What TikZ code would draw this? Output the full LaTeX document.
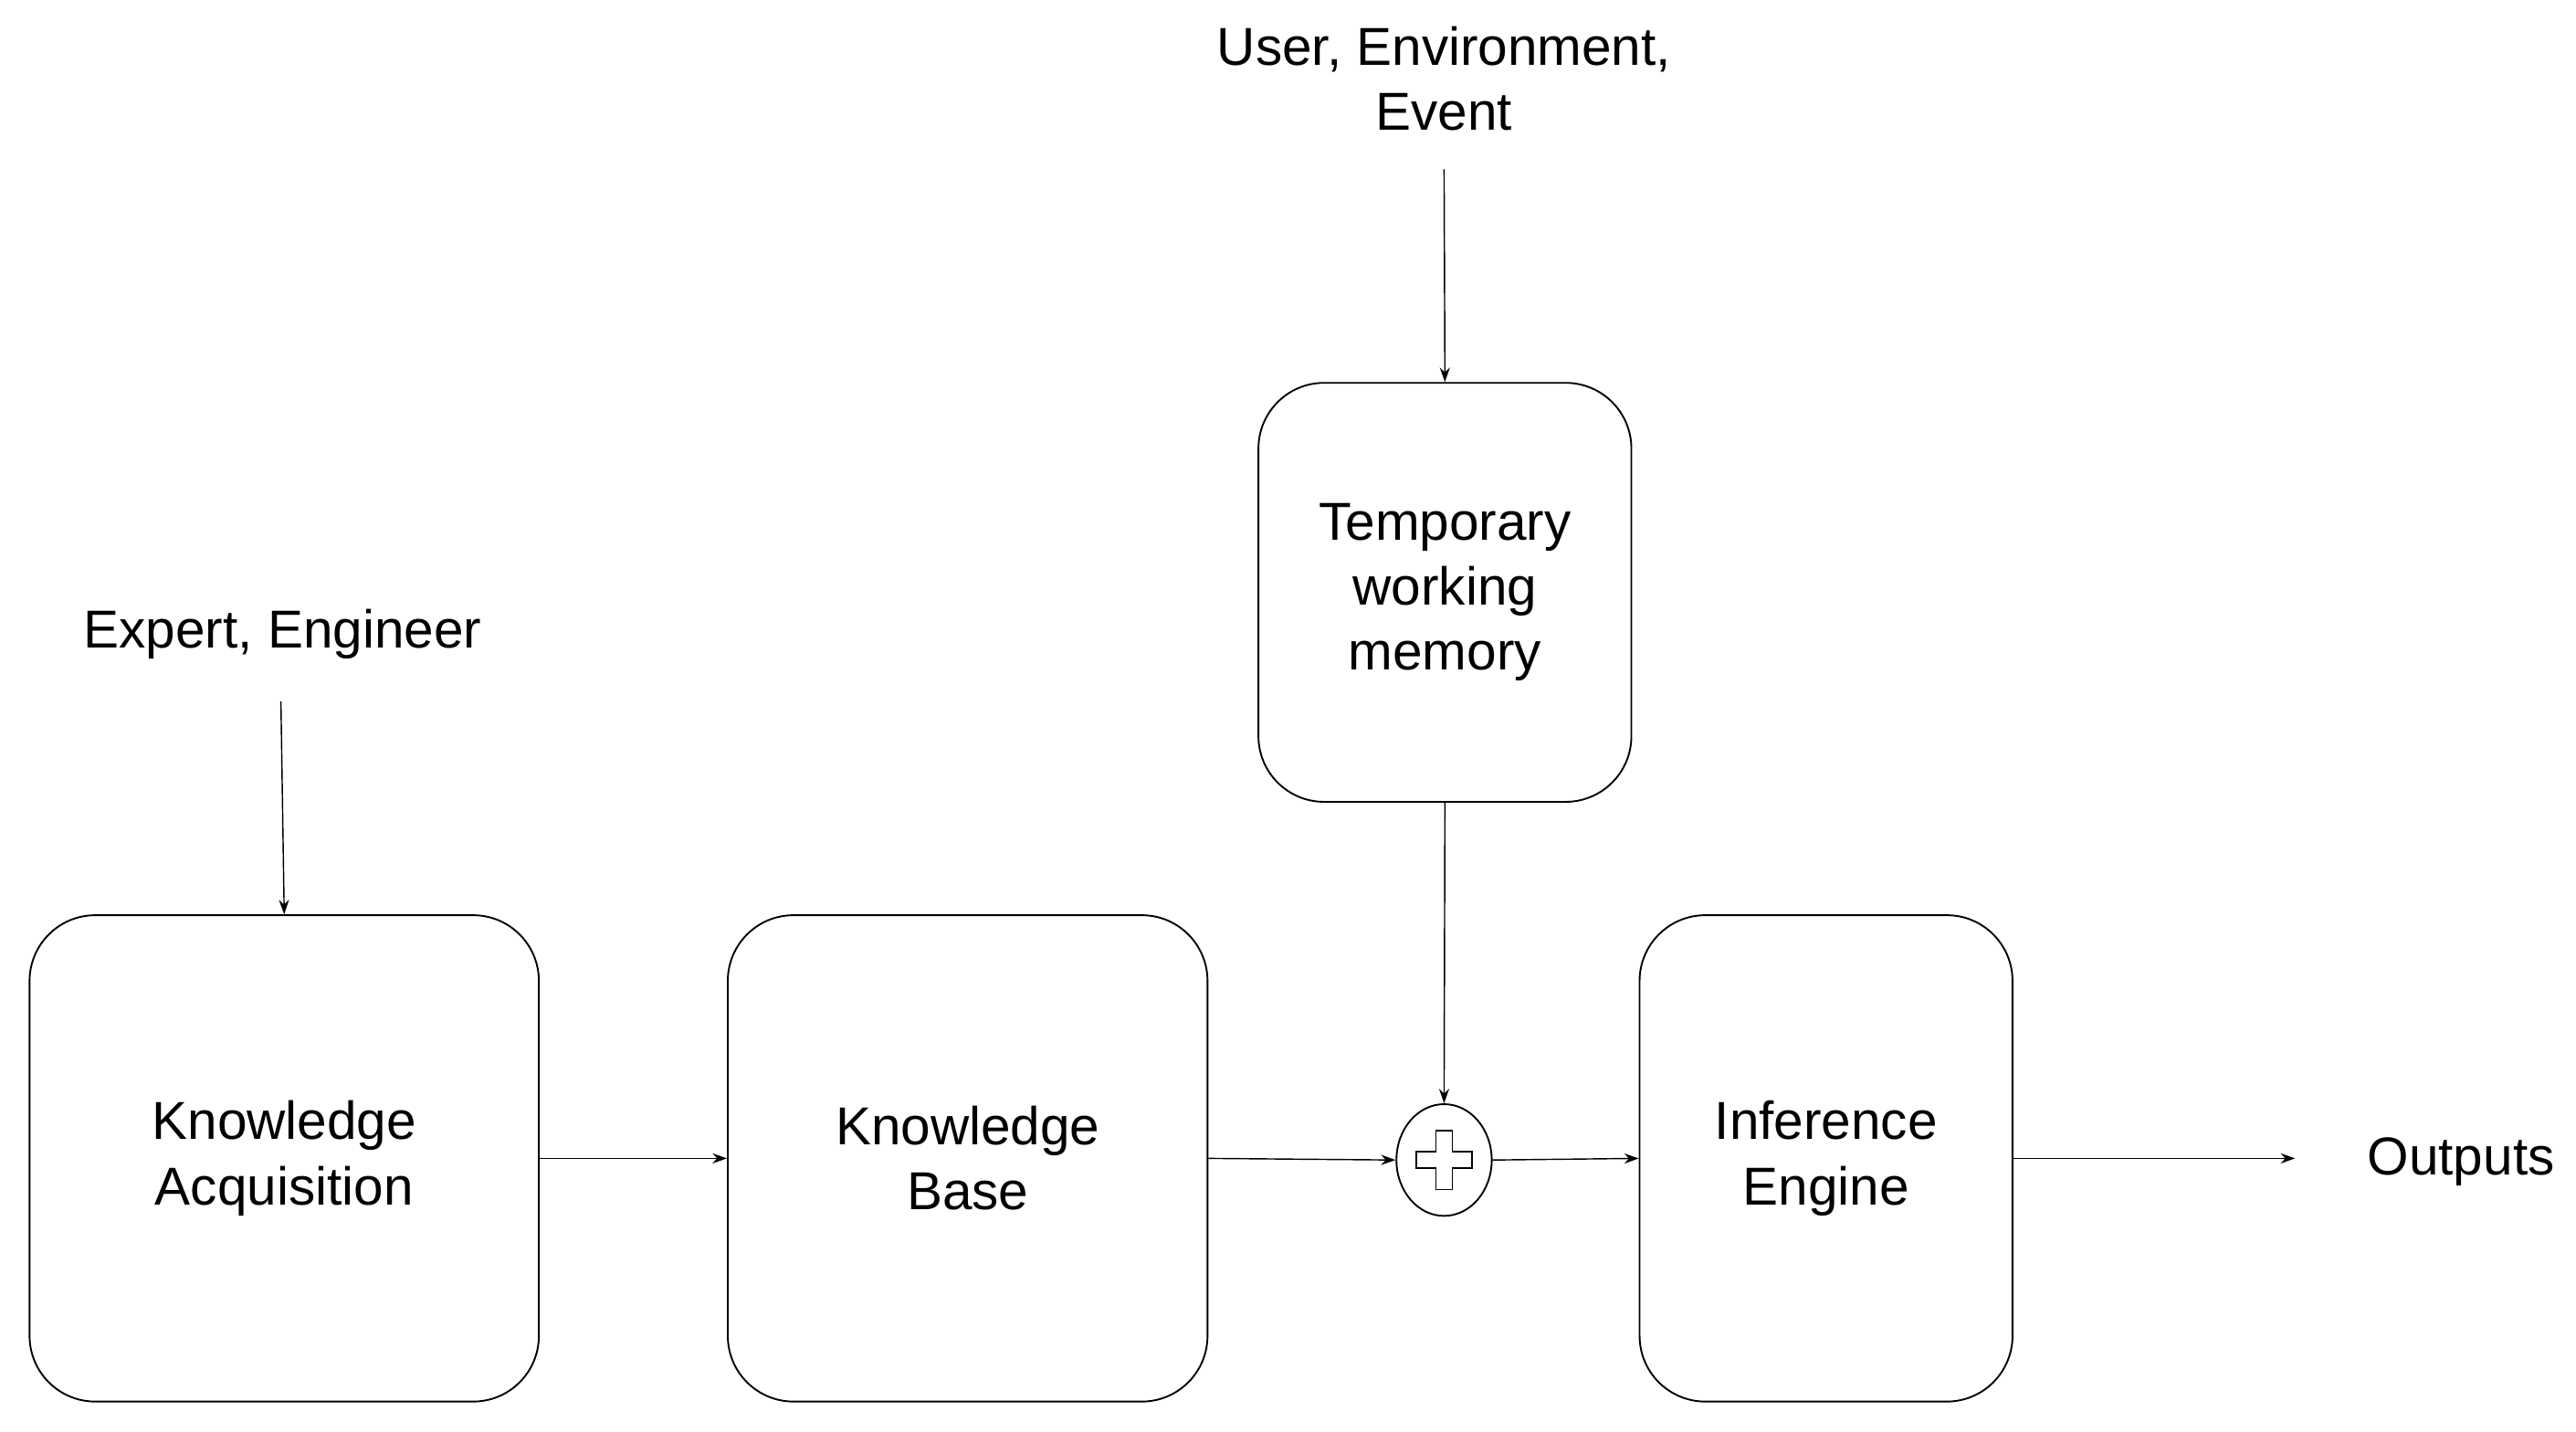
\documentclass[tikz,border=0pt]{standalone}
\usepackage{fontspec}
\setmainfont{Liberation Sans}
\usetikzlibrary{arrows.meta,shapes.geometric}
\begin{document}
\begin{tikzpicture}[x=0.02cm,y=-0.02cm,
  box/.style={draw,line width=0.6pt,rounded corners=0.8cm,align=center,font=\fontsize{18.5}{22.5}\selectfont},
  lbl/.style={align=center,font=\fontsize{18.5}{22.5}\selectfont},
  arr/.style={line width=0.45pt,-{Stealth[length=5pt,width=3.5pt]}}]
\useasboundingbox (0,0) rectangle (1568,871.5);
\node[box,minimum width=310*0.02cm,minimum height=296*0.02cm] (ka) at (173,705) {Knowledge\\Acquisition};
\node[box,minimum width=292*0.02cm,minimum height=296*0.02cm] (kb) at (589,705) {Knowledge\\Base};
\node[box,minimum width=227*0.02cm,minimum height=255*0.02cm] (twm) at (879.5,360.5) {Temporary\\working\\memory};
\node[box,minimum width=227*0.02cm,minimum height=296*0.02cm] (ie) at (1111.5,705) {Inference\\Engine};
\node[draw,ellipse,line width=0.6pt,minimum width=58*0.02cm,minimum height=68*0.02cm,inner sep=0pt] (c) at (879,706) {};
\draw[line width=0.5pt] (874,688)--(884,688)--(884,701)--(896,701)--(896,711)--(884,711)--(884,724)--(874,724)--(874,711)--(862,711)--(862,701)--(874,701)--cycle;
\node[lbl] (exp) at (172,386) {Expert, Engineer};
\node[lbl] (usr) at (879,48) {User, Environment,\\Event};
\node[lbl] (out) at (1498,707) {Outputs};
\coordinate (e1) at (171,427);
\coordinate (u1) at (879,103);
\coordinate (o1) at (1397,705);
\draw[arr] (e1) -- (ka.north);
\draw[arr] (u1) -- (twm.north);
\draw[arr] (ka.east) -- (kb.west);
\draw[arr] (kb.east) -- (c.west);
\draw[arr] (twm.south) -- (c.north);
\draw[arr] (c.east) -- (ie.west);
\draw[arr] (ie.east) -- (o1);
\end{tikzpicture}
\end{document}
